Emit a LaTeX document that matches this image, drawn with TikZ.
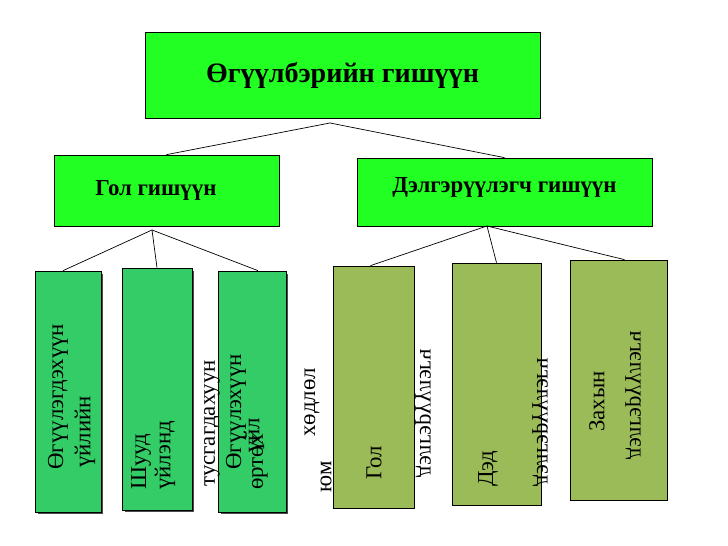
\documentclass[tikz,border=0pt]{standalone}
\usepackage{fontspec}
\setmainfont{Liberation Serif}
\usepackage{tikz}
\usetikzlibrary{calc}
\newcommand{\topcolor}{brightgreen}
\definecolor{brightgreen}{HTML}{22FF22}
\definecolor{leafgreen}{HTML}{33CC66}
\definecolor{olivegreen}{HTML}{9BBB59}
\newcommand{\vfont}{\fontsize{13}{14}\selectfont}
\begin{document}
\begin{tikzpicture}[x=0.02cm,y=-0.02cm]
\useasboundingbox (0,0) rectangle (728,546);
\tikzset{head/.style={draw,fill=\topcolor,font=\bfseries},
  leaf/.style={draw,fill=leafgreen},
  twig/.style={draw,fill=olivegreen},
  vtext/.style={rotate=90,anchor=west,inner sep=0pt,font=\vfont}}
%heads
\node[head,minimum width=395*0.02cm,minimum height=86*0.02cm,font=\bfseries\fontsize{16}{18}\selectfont] (root) at (342.5,75) {Өгүүлбэрийн гишүүн};
\node[head,minimum width=225*0.02cm,minimum height=71*0.02cm,font=\bfseries\fontsize{13}{15}\selectfont] (main) at (166.5,190.5) {\hspace*{-12pt}Гол гишүүн};
\node[head,minimum width=295*0.02cm,minimum height=68*0.02cm,font=\bfseries\fontsize{13}{15}\selectfont,text depth=0pt] (ext) at (504.5,192) {\raisebox{8pt}{Дэлгэрүүлэгч гишүүн}};
\coordinate (r) at (330,123);
\coordinate (m) at (152,230);
\coordinate (e) at (487,226);
%boxes
\fill[black!70] (38,274) rectangle (103,514);
\node[leaf,minimum width=66*0.02cm,minimum height=241*0.02cm] (b1) at (68,391.5) {};
\fill[black!70] (125,271) rectangle (194,512);
\node[leaf,minimum width=70*0.02cm,minimum height=242*0.02cm] (b2) at (157,389) {};
\fill[black!70] (221,274) rectangle (288,514);
\node[leaf,minimum width=68*0.02cm,minimum height=241*0.02cm] (b3) at (252,391.5) {};
\node[twig,minimum width=81*0.02cm,minimum height=242*0.02cm] (b4) at (373.5,387) {};
\node[twig,minimum width=89*0.02cm,minimum height=242*0.02cm] (b5) at (496.5,384) {};
\node[twig,minimum width=97*0.02cm,minimum height=240*0.02cm] (b6) at (618.5,380) {};
%connectors
\draw (r) -- (main.north);
\draw (r) -- ($(ext.north)+(0,0)$);
\draw (m) -- ($(b1.north)+(-5,0)$);
\draw (m) -- (b2.north);
\draw (m) -- ($(b3.north)+(6,0)$);
\draw (e) -- ($(b4.north)+(-3,0)$);
\draw (e) -- (b5.north);
\draw (e) -- ($(b6.north)+(6,0)$);
%texts
\node[vtext] (t1) at (58,470) {Өгүүлэгдэхүүн};
\node[vtext] (t2) at (85,468) {үйлийн};
\node[vtext] (t3) at (141,490) {Шууд};
\node[vtext] (t4) at (165,490) {үйлэнд};
\node[vtext] (t5) at (212,487) {тусгагдахуун};
\node[vtext] (t6) at (236,470) {Өгүүлэхүүн};
\node[vtext] (t7) at (254,453) {үйл};
\node[vtext] (t8) at (260,490) {өртөх};
\node[vtext] (t9) at (312,437) {хөдлөл};
\node[vtext] (t10) at (326,493) {юм};
\node[vtext] (t11) at (374,480) {Гол};
\node[vtext] (t12) at (423,478) {\scalebox{1}[-1]{дэлгэрүүлэгч}};
\node[vtext] (t13) at (488,487) {Дэд};
\node[vtext] (t14) at (540,487) {\scalebox{1}[-1]{дэлгэрүүлэгч}};
\node[vtext] (t15) at (597,432) {Захын};
\node[vtext] (t16) at (633,460) {\scalebox{1}[-1]{дэлгэрүүлэгч}};
\end{tikzpicture}
\end{document}
